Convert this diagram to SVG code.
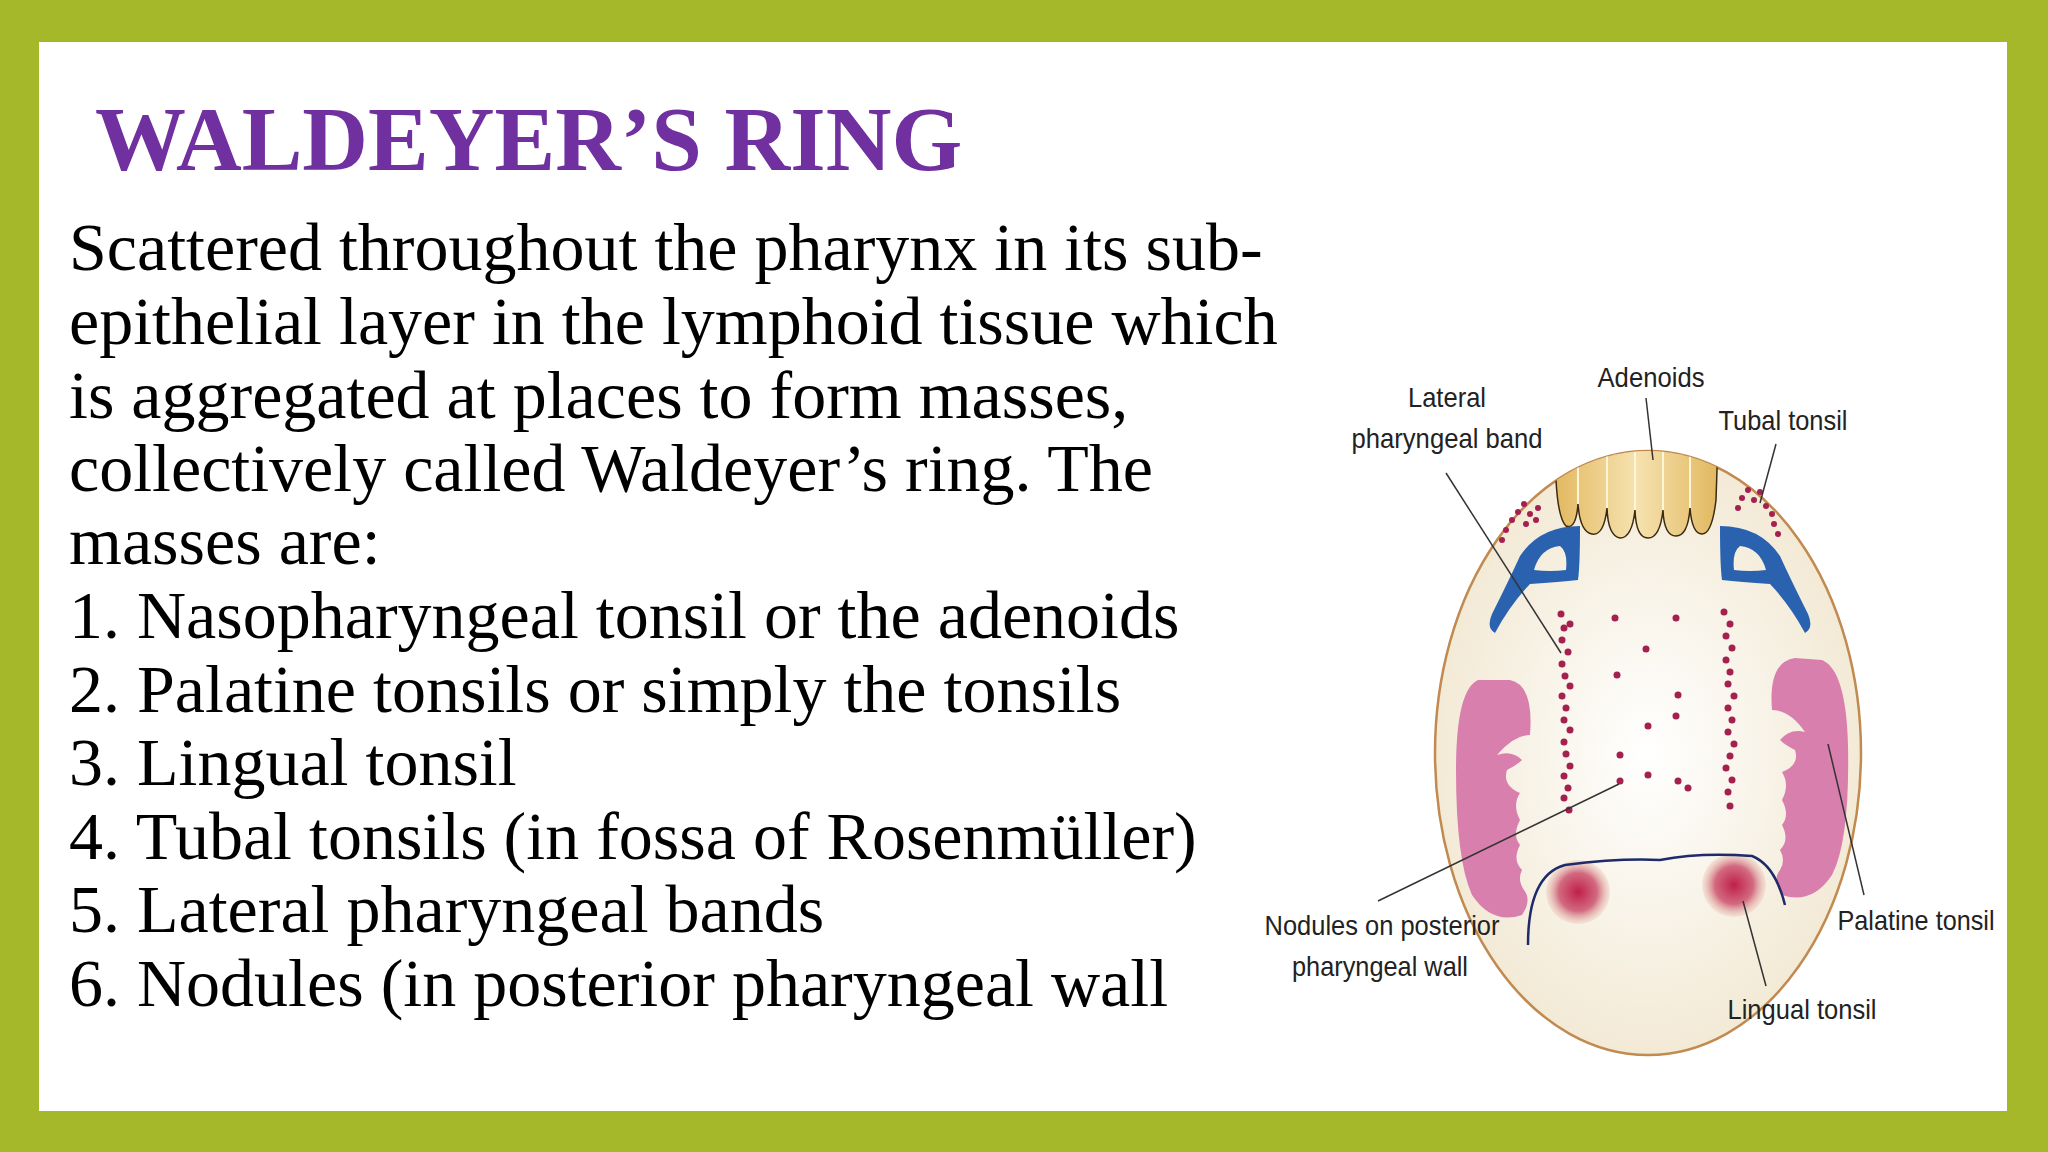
<svg xmlns="http://www.w3.org/2000/svg" width="2048" height="1152" viewBox="0 0 2048 1152">
<defs>
<radialGradient id="bg" cx="0.5" cy="0.5" r="0.5"><stop offset="0" stop-color="#ffffff"/><stop offset="1" stop-color="#f3ead6"/></radialGradient>
<linearGradient id="ad" x1="0" y1="0" x2="1" y2="0"><stop offset="0" stop-color="#e2b860"/><stop offset="0.5" stop-color="#f6e2b0"/><stop offset="1" stop-color="#e2b860"/></linearGradient>
<radialGradient id="lg"><stop offset="0" stop-color="#c0204a"/><stop offset="0.6" stop-color="#d26a80"/><stop offset="1" stop-color="#e8c0b0" stop-opacity="0.3"/></radialGradient>
<clipPath id="ovc"><ellipse cx="1648" cy="753" rx="213" ry="302"/></clipPath>
<style>
.body{font-family:"Liberation Serif",serif;font-size:68px;fill:#000}
.lab{font-family:"Liberation Sans",sans-serif;font-size:28px;fill:#222;text-anchor:middle}
.ld{stroke:#333;stroke-width:1.5;fill:none}
.dot{fill:#a3204f}
.pink{fill:#d97fae}
.blue{fill:#2a62b0}
</style>
</defs>
<rect width="2048" height="1152" fill="#a4b82a"/>
<rect x="39" y="42" width="1968" height="1069" fill="#fff"/>
<text x="95" y="170" font-family="Liberation Serif,serif" font-weight="bold" font-size="91" fill="#7030a0">WALDEYER’S RING</text>
<g class="body">
<text x="69" y="270">Scattered throughout the pharynx in its sub-</text>
<text x="69" y="344">epithelial layer in the lymphoid tissue which</text>
<text x="69" y="418">is aggregated at places to form masses,</text>
<text x="69" y="491">collectively called Waldeyer’s ring. The</text>
<text x="69" y="564">masses are:</text>
<text x="69" y="638">1. Nasopharyngeal tonsil or the adenoids</text>
<text x="69" y="712">2. Palatine tonsils or simply the tonsils</text>
<text x="69" y="785">3. Lingual tonsil</text>
<text x="69" y="859">4. Tubal tonsils (in fossa of Rosenmüller)</text>
<text x="69" y="932">5. Lateral pharyngeal bands</text>
<text x="69" y="1006">6. Nodules (in posterior pharyngeal wall</text>
</g>
<g id="oval"><ellipse cx="1648" cy="753" rx="213" ry="302" fill="url(#bg)" stroke="#c08a50" stroke-width="2.5"/></g>
<g id="adenoids" clip-path="url(#ovc)">
<path d="M1554,440 L1718,440 L1716,500 Q1712,534 1702,534 Q1692,534 1690,508 Q1688,536 1676,536 Q1664,536 1663,510 Q1660,538 1648,538 Q1636,538 1635,510 Q1632,538 1620,538 Q1608,536 1607,508 Q1604,536 1592,534 Q1580,532 1578,504 Q1576,530 1566,526 Q1558,518 1556,480 Z" fill="url(#ad)" stroke="#3a2a10" stroke-width="1.5"/>
<path d="M1578,452 V504 M1607,452 V508 M1635,452 V510 M1663,452 V510 M1690,452 V508" stroke="#fff6d8" stroke-width="2"/>
</g>
<g id="tubal">
<path class="blue" d="M1580,526 Q1580,566 1578,580 Q1560,582 1530,584 Q1510,605 1495,633 Q1486,628 1492,614 Q1510,578 1520,556 Q1540,526 1580,526 Z M1560,546 Q1540,548 1534,570 Q1550,572 1566,570 Q1568,552 1560,546 Z" fill-rule="evenodd"/>
<path class="blue" d="M1720,526 Q1720,566 1722,580 Q1740,582 1770,584 Q1790,605 1805,633 Q1814,628 1808,614 Q1790,578 1780,556 Q1760,526 1720,526 Z M1740,546 Q1760,548 1766,570 Q1750,572 1734,570 Q1732,552 1740,546 Z" fill-rule="evenodd"/>
<g class="dot">
<circle cx="1512" cy="520" r="3"/><circle cx="1518" cy="512" r="3"/><circle cx="1524" cy="504" r="3"/><circle cx="1530" cy="514" r="3"/><circle cx="1526" cy="524" r="3"/><circle cx="1536" cy="520" r="3"/><circle cx="1506" cy="530" r="3"/><circle cx="1502" cy="540" r="3"/><circle cx="1538" cy="508" r="3"/>
<circle cx="1742" cy="498" r="3"/><circle cx="1748" cy="490" r="3"/><circle cx="1754" cy="500" r="3"/><circle cx="1760" cy="492" r="3"/><circle cx="1766" cy="506" r="3"/><circle cx="1772" cy="514" r="3"/><circle cx="1774" cy="524" r="3"/><circle cx="1778" cy="534" r="3"/><circle cx="1738" cy="508" r="3"/>
</g>
</g>
<g id="palatine">
<path class="pink" d="M1478,680 Q1456,690 1456,770 Q1456,860 1472,895 Q1492,925 1522,915 Q1532,900 1524,890 Q1517,880 1522,870 Q1512,860 1520,845 Q1512,835 1520,820 Q1512,805 1520,793 Q1502,785 1507,770 Q1517,765 1522,760 Q1512,750 1497,755 Q1514,735 1530,735 Q1534,685 1510,680 Z"/>
<path class="pink" d="M1822,660 Q1846,670 1848,745 Q1850,840 1832,875 Q1812,905 1782,895 Q1772,880 1780,870 Q1786,860 1780,850 Q1790,840 1782,825 Q1790,815 1782,800 Q1790,785 1782,772 Q1800,765 1795,750 Q1785,745 1780,740 Q1790,728 1805,732 Q1790,710 1772,710 Q1768,662 1795,658 Z"/>
</g>
<g id="lingual">
<circle cx="1578" cy="892" r="32" fill="url(#lg)"/>
<circle cx="1734" cy="885" r="32" fill="url(#lg)"/>
<path d="M1528,945 Q1528,875 1565,865 Q1620,858 1660,860 Q1700,852 1752,856 Q1775,865 1785,905" fill="none" stroke="#1e2a6a" stroke-width="2.5"/>
</g>
<g id="bands" class="dot">
<circle cx="1561" cy="614" r="3.5"/><circle cx="1564" cy="628" r="3.5"/><circle cx="1570" cy="624" r="3.5"/><circle cx="1562" cy="640" r="3.5"/><circle cx="1568" cy="652" r="3.5"/><circle cx="1562" cy="664" r="3.5"/><circle cx="1565" cy="676" r="3.5"/><circle cx="1570" cy="686" r="3.5"/><circle cx="1562" cy="696" r="3.5"/><circle cx="1566" cy="708" r="3.5"/><circle cx="1564" cy="720" r="3.5"/><circle cx="1570" cy="730" r="3.5"/><circle cx="1564" cy="742" r="3.5"/><circle cx="1566" cy="754" r="3.5"/><circle cx="1570" cy="766" r="3.5"/><circle cx="1564" cy="776" r="3.5"/><circle cx="1568" cy="788" r="3.5"/><circle cx="1564" cy="798" r="3.5"/><circle cx="1569" cy="810" r="3.5"/>
<circle cx="1724" cy="612" r="3.5"/><circle cx="1730" cy="624" r="3.5"/><circle cx="1726" cy="636" r="3.5"/><circle cx="1732" cy="648" r="3.5"/><circle cx="1726" cy="660" r="3.5"/><circle cx="1730" cy="672" r="3.5"/><circle cx="1728" cy="684" r="3.5"/><circle cx="1734" cy="696" r="3.5"/><circle cx="1728" cy="708" r="3.5"/><circle cx="1732" cy="720" r="3.5"/><circle cx="1728" cy="732" r="3.5"/><circle cx="1734" cy="744" r="3.5"/><circle cx="1730" cy="756" r="3.5"/><circle cx="1726" cy="768" r="3.5"/><circle cx="1732" cy="780" r="3.5"/><circle cx="1728" cy="792" r="3.5"/><circle cx="1730" cy="806" r="3.5"/>
<circle cx="1615" cy="618" r="3.5"/><circle cx="1676" cy="618" r="3.5"/><circle cx="1646" cy="649" r="3.5"/><circle cx="1617" cy="675" r="3.5"/><circle cx="1678" cy="695" r="3.5"/><circle cx="1676" cy="716" r="3.5"/><circle cx="1648" cy="726" r="3.5"/><circle cx="1620" cy="755" r="3.5"/><circle cx="1620" cy="781" r="3.5"/><circle cx="1648" cy="775" r="3.5"/><circle cx="1678" cy="781" r="3.5"/><circle cx="1688" cy="788" r="3.5"/>
</g>
<g id="connectors">
<line class="ld" x1="1446" y1="473" x2="1561" y2="653"/>
<line class="ld" x1="1646" y1="398" x2="1653" y2="460"/>
<line class="ld" x1="1776" y1="444" x2="1760" y2="503"/>
<line class="ld" x1="1864" y1="895" x2="1828" y2="744"/>
<line class="ld" x1="1766" y1="986" x2="1743" y2="901"/>
<line class="ld" x1="1378" y1="901" x2="1619" y2="784"/>
</g>
<g id="labels">
<text class="lab" x="1447" y="407" textLength="78" lengthAdjust="spacingAndGlyphs">Lateral</text>
<text class="lab" x="1447" y="448" textLength="191" lengthAdjust="spacingAndGlyphs">pharyngeal band</text>
<text class="lab" x="1651" y="387" textLength="107" lengthAdjust="spacingAndGlyphs">Adenoids</text>
<text class="lab" x="1783" y="430" textLength="129" lengthAdjust="spacingAndGlyphs">Tubal tonsil</text>
<text class="lab" x="1916" y="930" textLength="157" lengthAdjust="spacingAndGlyphs">Palatine tonsil</text>
<text class="lab" x="1802" y="1019" textLength="149" lengthAdjust="spacingAndGlyphs">Lingual tonsil</text>
<text class="lab" x="1382" y="935" textLength="235" lengthAdjust="spacingAndGlyphs">Nodules on posterior</text>
<text class="lab" x="1380" y="976" textLength="176" lengthAdjust="spacingAndGlyphs">pharyngeal wall</text>
</g>
</svg>
